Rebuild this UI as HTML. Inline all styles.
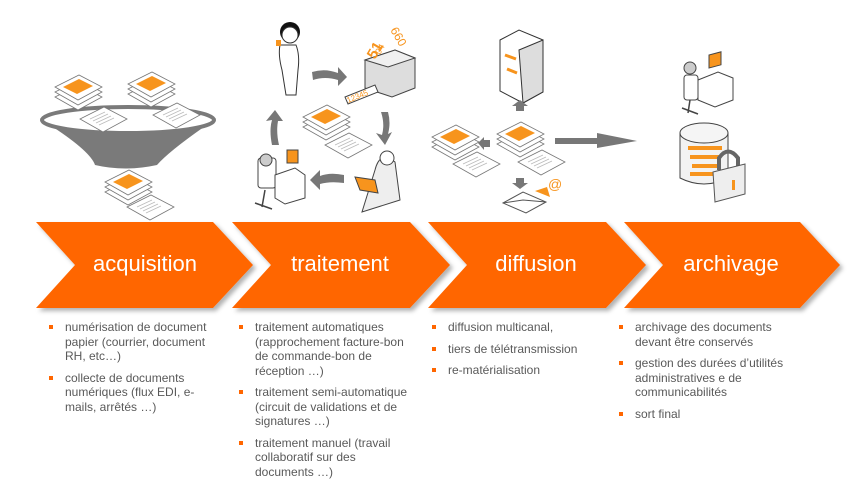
<!DOCTYPE html>
<html><head><meta charset="utf-8"><style>
body{margin:0;width:858px;height:492px;background:#fff;overflow:hidden;position:relative;font-family:"Liberation Sans",Arial,sans-serif}
.col{position:absolute;top:320px;font-size:12px;line-height:14.5px;color:#595959}
.col div{position:relative;padding-left:17px;margin-bottom:7px}
.col div:before{content:"";position:absolute;left:1px;top:5px;width:4px;height:4px;background:#f60}
.lab{position:absolute;top:251px;color:#fff;font-size:22px;text-align:center;width:200px}
</style></head><body>
<svg width="858" height="492" style="position:absolute;left:0;top:0">
<defs>
<filter id="sh" x="-10%" y="-10%" width="130%" height="130%"><feDropShadow dx="3" dy="3" stdDeviation="2" flood-color="#000" flood-opacity="0.3"/></filter>
<g id="stack">
<polygon points="0,22 24,10 47,22 23,35" fill="#fff" stroke="#777" stroke-width="0.8"/>
<polygon points="0,17 24,5 47,17 23,30" fill="#fff" stroke="#777" stroke-width="0.8"/>
<polygon points="0,12 24,0 47,12 23,25" fill="#fff" stroke="#777" stroke-width="0.8"/>
<polygon points="8,12 24,4 38,11 22,19" fill="#f7941d"/>
</g>
<g id="loose">
<polygon points="0,12 24,0 47,12 23,25" fill="#fff" stroke="#777" stroke-width="0.8"/>
<path d="M10,12 L25,5 M13,14 L28,7 M16,16 L31,9 M19,18 L34,11" stroke="#bbb" stroke-width="0.8"/>
</g>
</defs>
<g filter="url(#sh)" fill="#ff6600">
<polygon points="36,222 213,222 253,265 213,308 36,308 75,265"/>
<polygon points="232,222 410,222 450,265 410,308 232,308 271,265"/>
<polygon points="428,222 606,222 646,265 606,308 428,308 467,265"/>
<polygon points="624,222 800,222 840,265 800,308 624,308 663,265"/>
</g>
<path d="M42,120 Q90,150 95,165 Q125,172 157,165 Q170,150 214,120 Z" fill="#7a7a7a"/>
<ellipse cx="128" cy="120" rx="86" ry="13" fill="#fff" stroke="#7a7a7a" stroke-width="4"/>
<use href="#stack" x="55" y="75"/><use href="#loose" x="80" y="107"/>
<use href="#stack" x="128" y="72"/><use href="#loose" x="153" y="103"/>
<use href="#stack" x="105" y="170"/><use href="#loose" x="127" y="195"/>
<use href="#stack" x="303" y="105"/><use href="#loose" x="325" y="133"/>
<g fill="#777">
<path d="M312,72 Q325,68 338,73 L338,67 L347,77 L338,86 L338,80 Q325,76 313,80 Z"/>
<path d="M381,112 Q385,124 382,135 L376,133 L385,145 L392,132 L388,134 Q391,123 388,112 Z"/>
<path d="M344,175 Q330,172 320,176 L320,170 L310,180 L320,190 L320,184 Q330,181 344,183 Z"/>
<path d="M272,145 Q269,130 272,120 L266,121 L275,110 L283,121 L278,121 Q276,132 279,145 Z"/>
</g>
<circle cx="290" cy="32" r="10" fill="#111"/><circle cx="290" cy="35" r="8" fill="#fff" stroke="#333"/>
<path d="M280,45 L296,45 Q300,55 298,70 L296,95 L286,95 L282,70 Q278,55 280,45Z" fill="#fff" stroke="#333"/>
<rect x="276" y="40" width="5" height="6" fill="#f7941d"/>
<polygon points="365,60 395,50 415,58 415,88 392,97 365,88" fill="#ddd" stroke="#444"/>
<polygon points="365,60 395,50 415,58 388,67" fill="#f0f0f0" stroke="#444"/>
<polygon points="345,97 375,85 378,92 348,104" fill="#fff" stroke="#444"/>
<text x="348" y="103" font-size="8" fill="#f7941d" transform="rotate(-22 348 103)">12345</text>
<text x="375" y="60" font-size="15" fill="#f7941d" font-weight="bold" transform="rotate(-60 375 60)">51</text>
<text x="390" y="30" font-size="12" fill="#f7941d" transform="rotate(60 390 30)">660</text>
<text x="380" y="55" font-size="9" fill="#f7941d" transform="rotate(-60 380 55)">04</text>
<rect x="258" y="158" width="18" height="30" rx="3" fill="#fff" stroke="#444"/>
<circle cx="266" cy="160" r="6" fill="#ccc" stroke="#444"/>
<polygon points="275,175 295,168 305,175 305,198 285,204 275,198" fill="#fff" stroke="#444"/>
<rect x="287" y="150" width="11" height="13" fill="#f7941d" stroke="#444"/>
<path d="M265,190 L262,207 M255,203 L272,209" stroke="#444" stroke-width="1.5"/>
<path d="M375,170 Q380,150 395,162 L400,200 L362,212 Z" fill="#eee" stroke="#444"/>
<circle cx="387" cy="158" r="7" fill="#fff" stroke="#444"/>
<polygon points="355,177 375,180 378,193 360,190" fill="#f7941d" stroke="#444"/>
<use href="#stack" x="432" y="125"/><use href="#loose" x="453" y="152"/>
<use href="#stack" x="497" y="122"/><use href="#loose" x="518" y="150"/>
<polygon points="500,40 519,30 543,40 543,92 523,103 500,91" fill="#fff" stroke="#333"/>
<polygon points="519,50 543,40 543,92 523,103" fill="#ddd" stroke="#333"/>
<path d="M505,55 L516,59 M507,69 L517,73" stroke="#f7941d" stroke-width="3"/>
<g fill="#777">
<polygon points="520,100 528,106 524,106 524,111 516,111 516,106 512,106"/>
<polygon points="478,143 484,137 484,140 490,140 490,147 484,147 484,150"/>
<polygon points="516,178 524,178 524,183 528,183 520,189 512,183 516,183"/>
<polygon points="555,138 597,138 597,133 637,141 597,148 597,144 555,144"/>
</g>
<polygon points="503,203 523,192 546,202 526,213" fill="#fff" stroke="#555"/>
<path d="M503,203 L523,200 L546,202" stroke="#555" fill="none"/>
<polygon points="535,191 547,187 550,197" fill="#f7941d"/>
<text x="548" y="189" font-size="14" fill="#f7941d">@</text>
<path d="M680,133 L680,178 Q704,190 728,178 L728,133 Z" fill="#f2f2f2" stroke="#444"/>
<ellipse cx="704" cy="133" rx="24" ry="10" fill="#f5f5f5" stroke="#444"/>
<g stroke="#f7941d" stroke-width="4"><path d="M688,148 L722,148 M690,157 L720,157 M692,166 L718,166 M690,174 L714,174"/></g>
<path d="M719,170 L719,158 Q728,145 738,158 L738,170" fill="none" stroke="#666" stroke-width="4"/>
<polygon points="713,172 745,164 745,194 715,202" fill="#eee" stroke="#555"/>
<rect x="732" y="180" width="3" height="10" fill="#f7941d"/>
<circle cx="690" cy="68" r="6" fill="#ccc" stroke="#444"/>
<rect x="684" y="75" width="14" height="25" rx="3" fill="#fff" stroke="#444"/>
<polygon points="698,80 718,72 733,78 733,100 715,107 698,100" fill="#fff" stroke="#444"/>
<rect x="709" y="55" width="12" height="13" fill="#f7941d" stroke="#444" transform="skewY(-15) translate(0,190)"/>
<path d="M690,100 L688,113 M682,108 L698,114" stroke="#444" stroke-width="1.5"/>
</svg>
<div class="lab" style="left:45px">acquisition</div>
<div class="lab" style="left:240px">traitement</div>
<div class="lab" style="left:436px">diffusion</div>
<div class="lab" style="left:631px">archivage</div>
<div class="col" style="left:48px;width:172px">
<div>numérisation de document papier (courrier, document RH, etc…)</div>
<div>collecte de documents numériques (flux EDI, e-mails, arrêtés …)</div>
</div>
<div class="col" style="left:238px;width:172px">
<div>traitement automatiques (rapprochement facture-bon de commande-bon de réception …)</div>
<div>traitement semi-automatique (circuit de validations et de signatures …)</div>
<div style="width:140px">traitement manuel (travail collaboratif sur des documents …)</div>
</div>
<div class="col" style="left:431px;width:180px">
<div>diffusion multicanal,</div>
<div>tiers de télétransmission</div>
<div>re-matérialisation</div>
</div>
<div class="col" style="left:618px;width:180px">
<div>archivage des documents devant être conservés</div>
<div>gestion des durées d’utilités administratives e de communicabilités</div>
<div>sort final</div>
</div>
</body></html>
